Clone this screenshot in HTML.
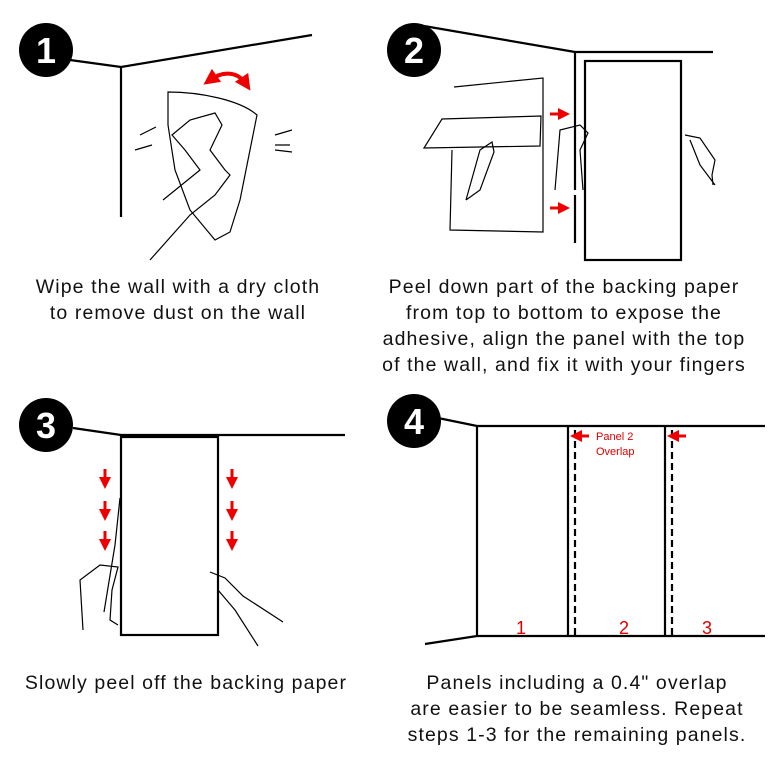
<!DOCTYPE html>
<html><head><meta charset="utf-8"><style>
html,body{margin:0;padding:0;background:#fff;width:768px;height:768px;overflow:hidden}
svg{display:block}
.t{font-family:"Liberation Sans",sans-serif;font-size:19.5px;fill:#111;text-anchor:middle;letter-spacing:1.1px}
.n{font-family:"Liberation Sans",sans-serif;font-size:36px;font-weight:bold;fill:#fff;text-anchor:middle}
.r{font-family:"Liberation Sans",sans-serif;fill:#d00}
</style></head><body>
<svg width="768" height="768" viewBox="0 0 768 768" xmlns="http://www.w3.org/2000/svg">
<defs>
<marker id="ah" markerWidth="4" markerHeight="4" refX="2" refY="2" orient="auto"><path d="M0,0 L4,2 L0,4 z" fill="#e00"/></marker>
<marker id="as" markerWidth="4" markerHeight="4" refX="2" refY="2" orient="auto-start-reverse"><path d="M0,0 L4,2 L0,4 z" fill="#e00"/></marker>
</defs>
<g stroke="#000" fill="none" stroke-width="2.2">
<path d="M70,60 L121,67 L312,35"/><path d="M121,67 L121,217"/>
<path d="M424,26 L575,52 L713,52"/><path d="M575,52 L575,190 M575,195 L575,243"/>
<rect x="585" y="61" width="96" height="199"/>
<path d="M73,428 L121,435 L345,435"/>
<rect x="121" y="437" width="97" height="198"/>
<path d="M438,418 L477,426 L765,426 M425,644 L477,636 L765,636 M477,426 L477,636 M568,426 L568,636 M665,426 L665,636"/>
<path d="M575,430 L575,636 M672,430 L672,636" stroke-dasharray="7,4"/>
</g>
<g stroke="#000" fill="none" stroke-width="1.2">
<path d="M168,92 C200,92 240,100 257,115 L248,160 L240,200 L230,232 L215,240 L190,210 L175,170 L168,125 Z"/>
<path d="M163,200 L200,170 L185,150 L172,135 L190,120 L215,113 L222,125 L210,150 L225,170 L230,175 L215,195 L190,215 L150,260"/>
<path d="M140,135 L156,127 M135,150 L152,145 M275,135 L292,130 M275,145 L290,145 M275,150 L292,152"/>
<path d="M454,87 L543,78 L543,232 L450,230 L452,150"/>
<path d="M442,119 L541,116 L540,146 L424,148 Z"/>
<path d="M466,200 L480,150 L492,142 L494,152 L480,190 L466,200"/>
<path d="M555,190 L560,130 L580,125 L588,133 L580,150 L583,190"/>
<path d="M685,135 L700,138 L715,160 L712,175 L713,185 M690,140 L700,165 L715,185"/>
<path d="M83,630 L80,580 L100,565 L118,567 L112,590 L110,620 L118,625"/>
<path d="M210,572 L225,578 L243,596 L283,622 M218,590 L235,610 L258,646"/>
<path d="M120,498 L115,545 L104,612"/>
</g>
<g stroke="#e00" stroke-width="3" fill="none">
<path d="M210,80 C224,70 238,72 246,84" stroke-width="4" marker-start="url(#as)" marker-end="url(#ah)"/>
</g>
<g stroke="#e00" stroke-width="3" fill="none" marker-end="url(#ah)">
<path d="M550,114 L564,114"/><path d="M550,208 L564,208"/>
<path d="M105,469 L105,483"/><path d="M105,501 L105,515"/><path d="M105,531 L105,545"/>
<path d="M232,469 L232,483"/><path d="M232,501 L232,515"/><path d="M232,531 L232,545"/>
<path d="M589,436 L576,436"/><path d="M686,436 L673,436"/>
</g>
<circle cx="46" cy="50" r="27" fill="#000"/><text class="n" x="46" y="63">1</text>
<circle cx="414" cy="50" r="27" fill="#000"/><text class="n" x="414" y="63">2</text>
<circle cx="46" cy="425" r="27" fill="#000"/><text class="n" x="46" y="438">3</text>
<circle cx="414" cy="421" r="27" fill="#000"/><text class="n" x="414" y="434">4</text>
<text class="r" x="596" y="440" font-size="11">Panel 2</text>
<text class="r" x="596" y="455" font-size="11">Overlap</text>
<text class="r" x="521" y="634" font-size="18" text-anchor="middle">1</text>
<text class="r" x="624" y="634" font-size="18" text-anchor="middle">2</text>
<text class="r" x="707" y="634" font-size="18" text-anchor="middle">3</text>
<text class="t" x="178" y="293">Wipe the wall with a dry cloth</text>
<text class="t" x="178" y="319">to remove dust on the wall</text>
<text class="t" x="564" y="293">Peel down part of the backing paper</text>
<text class="t" x="564" y="319">from top to bottom to expose the</text>
<text class="t" x="564" y="345">adhesive, align the panel with the top</text>
<text class="t" x="564" y="371">of the wall, and fix it with your fingers</text>
<text class="t" x="186" y="689">Slowly peel off the backing paper</text>
<text class="t" x="577" y="689">Panels including a 0.4" overlap</text>
<text class="t" x="577" y="715">are easier to be seamless. Repeat</text>
<text class="t" x="577" y="741">steps 1-3 for the remaining panels.</text>
</svg>
</body></html>
